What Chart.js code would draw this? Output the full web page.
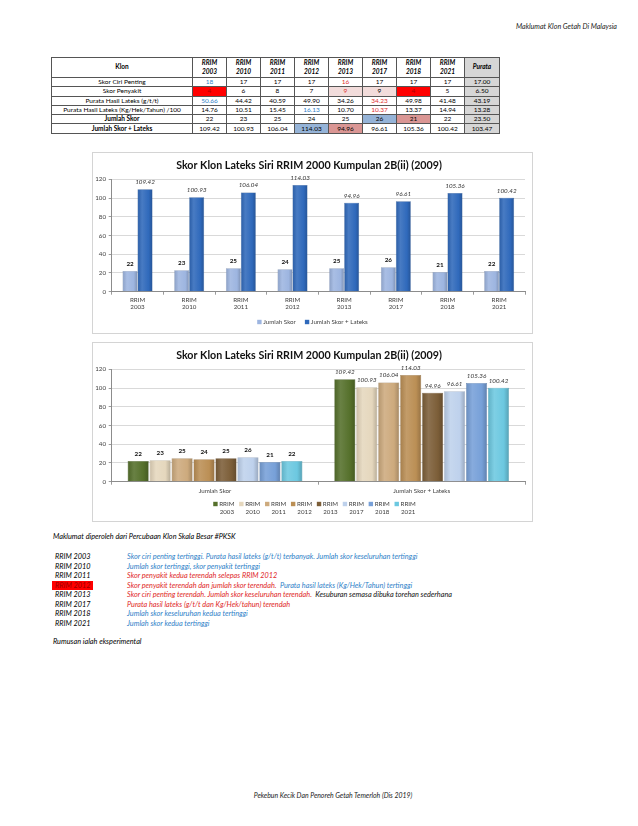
<!DOCTYPE html>
<html>
<head>
<meta charset="utf-8">
<script src="https://cdn.jsdelivr.net/npm/chart.js@4.4.0/dist/chart.umd.min.js"></script>
<style>
  html, body { margin: 0; padding: 0; background: #fff; }
  body { width: 638px; height: 826px; position: relative; overflow: hidden; font-family: Lato, "Open Sans", sans-serif; color: #000; }
  .abs { position: absolute; white-space: nowrap; }
  #hdr { right: 21px; top: 22px; font-size: 7.1px; font-style: italic; color: #222; }
  #ftr { left: 0; width: 666px; text-align: center; top: 791px; font-size: 6.9px; font-style: italic; color: #222; }
  table { position: absolute; left: 51px; top: 57px; width: 448px; border-collapse: collapse; table-layout: fixed; font-size: 6.5px; border: 1.5px solid #333; }
  td { border: 1px solid #555; padding: 0; text-align: center; line-height: 8px; overflow: hidden; }
  tr.h td { height: 19px; line-height: 8.5px; font-weight: bold; font-style: italic; }
  tr.h td.k { font-style: normal; }
  tr.r td { height: 8.3px; }
  td.pu { background: #d6d6d6; }
  .tb { color: #2f7fc8; }
  .tr { color: #e03030; }
  .bred { background: #ff0000; color: #b00000; }
  .bpink { background: #f2dcdb; }
  .bblue { background: #95b3d7; }
  .brose { background: #da9694; }
  .frame { position: absolute; left: 92px; width: 439px; border: 1px solid #d4d4d4; }
  .frame canvas { display: block; }
  .note { font-size: 7.3px; font-style: italic; }
</style>
</head>
<body>
<div id="hdr" class="abs">Maklumat Klon Getah Di Malaysia</div>
<table id="tbl"></table>
<div class="frame" style="top:152px;height:180px"><canvas id="c1" width="439" height="180" style="width:439px;height:180px"></canvas></div>
<div class="frame" style="top:342px;height:178px"><canvas id="c2" width="439" height="178" style="width:439px;height:178px"></canvas></div>
<div id="notes"></div>
<div id="ftr" class="abs">Pekebun Kecik Dan Penoreh Getah Temerloh (Dis 2019)</div>
<script>
// ─── DATA ────────────────────────────────────────────────────────────────────
const clones = ['RRIM 2003', 'RRIM 2010', 'RRIM 2011', 'RRIM 2012', 'RRIM 2013', 'RRIM 2017', 'RRIM 2018', 'RRIM 2021'];
const skorCiri = [18, 17, 17, 17, 16, 17, 17, 17];
const skorPenyakit = [4, 6, 8, 7, 9, 9, 4, 5];
const hasilGtt = [50.66, 44.42, 40.59, 49.90, 34.26, 34.23, 49.98, 41.48];
const hasilKg = [14.76, 10.51, 15.45, 16.13, 10.70, 10.37, 13.37, 14.94];
const jumlahSkor = [22, 23, 25, 24, 25, 26, 21, 22];
const jumlahLateks = [109.42, 100.93, 106.04, 114.03, 94.96, 96.61, 105.36, 100.42];
const purata = [17.00, 6.50, 43.19, 13.28, 23.50, 103.47];
const rowNames = ['Skor Ciri Penting', 'Skor Penyakit', 'Purata Hasil Lateks (g/t/t)', 'Purata Hasil Lateks (Kg/Hek/Tahun) /100', 'Jumlah Skor', 'Jumlah Skor + Lateks'];
const yTicks = [0, 20, 40, 60, 80, 100, 120];
const groupNames = ['Jumlah Skor', 'Jumlah Skor + Lateks'];

// ─── TABLE ───────────────────────────────────────────────────────────────────
const rowValues = [skorCiri, skorPenyakit, hasilGtt, hasilKg, jumlahSkor, jumlahLateks];
const rowDecimals = [0, 0, 2, 2, 0, 2];
const cellMarks = { '0-0': 'tb', '0-4': 'tr', '1-0': 'bred', '1-4': 'bpink tr', '1-5': 'bpink', '1-6': 'bred',
  '2-0': 'tb', '2-5': 'tr', '3-3': 'tb', '3-5': 'tr', '4-5': 'bblue', '4-6': 'brose', '5-3': 'bblue', '5-4': 'brose' };

const qs = s => document.querySelector(s);
let html = '<colgroup><col style="width:141px">' + clones.map(() => '<col style="width:34px">').join('') + '<col style="width:35px"></colgroup>';
html += '<tr class="h"><td class="k">Klon</td>' + clones.map(c => `<td>${c.replace(' ', '<br>')}</td>`).join('') + '<td class="pu">Purata</td></tr>';
rowValues.forEach((vals, r) => {
  const bold = r >= 4 ? ' style="font-weight:bold"' : '';
  html += `<tr class="r"><td${bold}>${rowNames[r]}</td>` +
    vals.map((v, c) => `<td class="${cellMarks[r + '-' + c] || ''}">${v.toFixed(rowDecimals[r])}</td>`).join('') +
    `<td class="pu">${purata[r].toFixed(2)}</td></tr>`;
});
qs('#tbl').innerHTML = html;

// ─── NOTES ───────────────────────────────────────────────────────────────────
const BLUE = '#2f7fc8', RED = '#e02828', BLACK = '#111';
const noteTexts = [
  [['Skor ciri penting tertinggi. Purata hasil lateks (g/t/t) terbanyak. Jumlah skor keseluruhan tertinggi', BLUE]],
  [['Jumlah skor tertinggi, skor penyakit tertinggi', BLUE]],
  [['Skor penyakit kedua terendah selepas RRIM 2012', RED]],
  [['Skor penyakit terendah dan jumlah skor terendah.  ', RED], ['Purata hasil lateks (Kg/Hek/Tahun) tertinggi', BLUE]],
  [['Skor ciri penting terendah. Jumlah skor keseluruhan terendah.  ', RED], ['Kesuburan semasa dibuka torehan sederhana', BLACK]],
  [['Purata hasil lateks (g/t/t dan Kg/Hek/tahun) terendah', RED]],
  [['Jumlah skor keseluruhan kedua tertinggi', BLUE]],
  [['Jumlah skor kedua tertinggi', BLUE]]
];
let notes = '<div class="abs note" style="left:53px;top:532px">Maklumat diperoleh dari Percubaan Klon Skala Besar #PKSK</div>';
clones.forEach((c, i) => {
  const top = 552 + i * 9.5;
  const hl = c === 'RRIM 2012' ? 'background:#ff0000;padding:0 3px;left:52px;color:#900;' : 'left:55px;';
  notes += `<div class="abs note" style="${hl}top:${top}px">${c}</div>`;
  notes += `<div class="abs note" style="left:127px;top:${top}px">` +
    noteTexts[i].map(([t, col]) => `<span style="color:${col};white-space:pre">${t}</span>`).join('') + '</div>';
});
notes += '<div class="abs note" style="left:53px;top:637px">Rumusan ialah eksperimental</div>';
qs('#notes').innerHTML = notes;

// ─── CHARTS ──────────────────────────────────────────────────────────────────
const FONT = 'Lato';
const TXT = '#404040';

function shade(hex, amt) {
  const n = parseInt(hex.slice(1), 16);
  const f = c => Math.max(0, Math.min(255, Math.round(amt >= 0 ? c + (255 - c) * amt : c * (1 + amt))));
  return `rgb(${f(n >> 16)},${f((n >> 8) & 255)},${f(n & 255)})`;
}

// gives every bar a soft left-to-right shading, like the 3D office bars
const barShading = {
  id: 'barShading',
  beforeDatasetsDraw(chart) {
    const ctx = chart.ctx;
    chart.data.datasets.forEach((ds, di) => {
      chart.getDatasetMeta(di).data.forEach(bar => {
        const base = ds.backgroundColor;
        const g = ctx.createLinearGradient(bar.x - bar.width / 2, 0, bar.x + bar.width / 2, 0);
        g.addColorStop(0, shade(base, -0.12));
        g.addColorStop(0.3, shade(base, 0.12));
        g.addColorStop(0.75, base);
        g.addColorStop(1, shade(base, -0.2));
        bar.options = Object.assign({}, bar.options, { backgroundColor: g, borderColor: shade(base, -0.25) });
      });
    });
  }
};

const valueLabels = {
  id: 'valueLabels',
  afterDatasetsDraw(chart, args, opts) {
    const ctx = chart.ctx;
    chart.data.datasets.forEach((ds, di) => {
      chart.getDatasetMeta(di).data.forEach((bar, i) => {
        const italic = opts.isLateks(di, i);
        ctx.save();
        ctx.font = italic ? `italic 6.3px ${FONT}` : `bold 6.3px ${FONT}`;
        ctx.fillStyle = italic ? '#333' : '#111';
        ctx.textAlign = 'center';
        ctx.textBaseline = 'middle';
        const v = ds.data[i];
        ctx.fillText(italic ? v.toFixed(2) : String(v), bar.x, bar.y - 7);
        ctx.restore();
      });
    });
  }
};

const boxLegend = {
  id: 'boxLegend',
  afterDraw(chart, args, opts) {
    const ctx = chart.ctx;
    ctx.save();
    ctx.font = `6.2px ${FONT}`;
    ctx.textBaseline = 'middle';
    const items = chart.data.datasets.map(ds => ({ color: ds.backgroundColor, lines: opts.split ? ds.label.split(' ') : [ds.label] }));
    const widths = items.map(it => 6 + Math.max(...it.lines.map(l => ctx.measureText(l).width)));
    const total = opts.stride ? opts.stride * (items.length - 1) + widths[widths.length - 1]
                              : widths.reduce((a, b) => a + b, 0) + opts.gap * (items.length - 1);
    let x = chart.width / 2 - total / 2 + (opts.shift || 0);
    items.forEach((it, i) => {
      ctx.fillStyle = it.color;
      ctx.fillRect(x, opts.y - 2.2, 4.4, 4.4);
      ctx.fillStyle = TXT;
      const w0 = ctx.measureText(it.lines[0]).width;
      it.lines.forEach((l, li) => {
        const lw = ctx.measureText(l).width;
        ctx.fillText(l, x + 6 + (w0 - lw) / 2, opts.y + li * 8);
      });
      x += opts.stride ? opts.stride : widths[i] + opts.gap;
    });
    ctx.restore();
  }
};

function baseOptions(xPad, xHeight, legendOpts, isLateks) {
  return {
    responsive: false,
    animation: false,
    layout: { padding: { left: 0, right: 7, top: 0, bottom: 0 } },
    plugins: {
      legend: { display: false },
      tooltip: { enabled: false },
      title: {
        display: true,
        text: 'Skor Klon Lateks Siri RRIM 2000 Kumpulan 2B(ii) (2009)',
        color: '#111',
        font: { family: FONT, size: 10.7, weight: 'bold' },
        padding: { top: 6, bottom: 7.5 }
      },
      valueLabels: { isLateks },
      boxLegend: legendOpts
    },
    scales: {
      x: {
        grid: { display: true, drawOnChartArea: false, tickLength: 3, color: '#9a9a9a' },
        border: { color: '#8c8c8c' },
        ticks: { color: TXT, font: { family: FONT, size: 6.2 }, padding: xPad, maxRotation: 0, autoSkip: false },
        afterFit: s => { s.height = xHeight; }
      },
      y: {
        min: 0, max: 120,
        afterBuildTicks: s => { s.ticks = yTicks.map(v => ({ value: v })); },
        grid: { color: '#d9d9d9', tickLength: 3, tickColor: '#9a9a9a' },
        border: { color: '#8c8c8c' },
        ticks: { color: TXT, font: { family: FONT, size: 6.2 }, padding: 2.7 },
        afterFit: s => { s.width = 18.7; }
      }
    }
  };
}

// Chart 1: grouped per clone
new Chart(qs('#c1'), {
  type: 'bar',
  data: {
    labels: clones.map(c => c.split(' ')),
    datasets: [
      { label: 'Jumlah Skor', data: jumlahSkor, backgroundColor: '#9db5e0', borderWidth: 0.5, categoryPercentage: 0.58, barPercentage: 1.0 },
      { label: 'Jumlah Skor + Lateks', data: jumlahLateks, backgroundColor: '#2f69bb', borderWidth: 0.5, categoryPercentage: 0.58, barPercentage: 1.0 }
    ]
  },
  options: baseOptions(1.5, 41.3, { y: 169, gap: 9 }, (di) => di === 1),
  plugins: [barShading, valueLabels, boxLegend]
});

// Chart 2: grouped per total type
const cloneColors = ['#55702b', '#e5d7bd', '#cdaa7d', '#bb8f55', '#7c5e38', '#bed1ec', '#77a0d8', '#6cc8e0'];
new Chart(qs('#c2'), {
  type: 'bar',
  data: {
    labels: groupNames,
    datasets: clones.map((c, i) => ({
      label: c,
      data: [jumlahSkor[i], jumlahLateks[i]],
      backgroundColor: cloneColors[i],
      borderWidth: 0.5,
      categoryPercentage: 0.85,
      barPercentage: 0.96
    }))
  },
  options: baseOptions(2.1, 39.3, { y: 161, stride: 25.9, split: true, shift: 2 }, (di, i) => i === 1),
  plugins: [barShading, valueLabels, boxLegend]
});
</script>
</body>
</html>
